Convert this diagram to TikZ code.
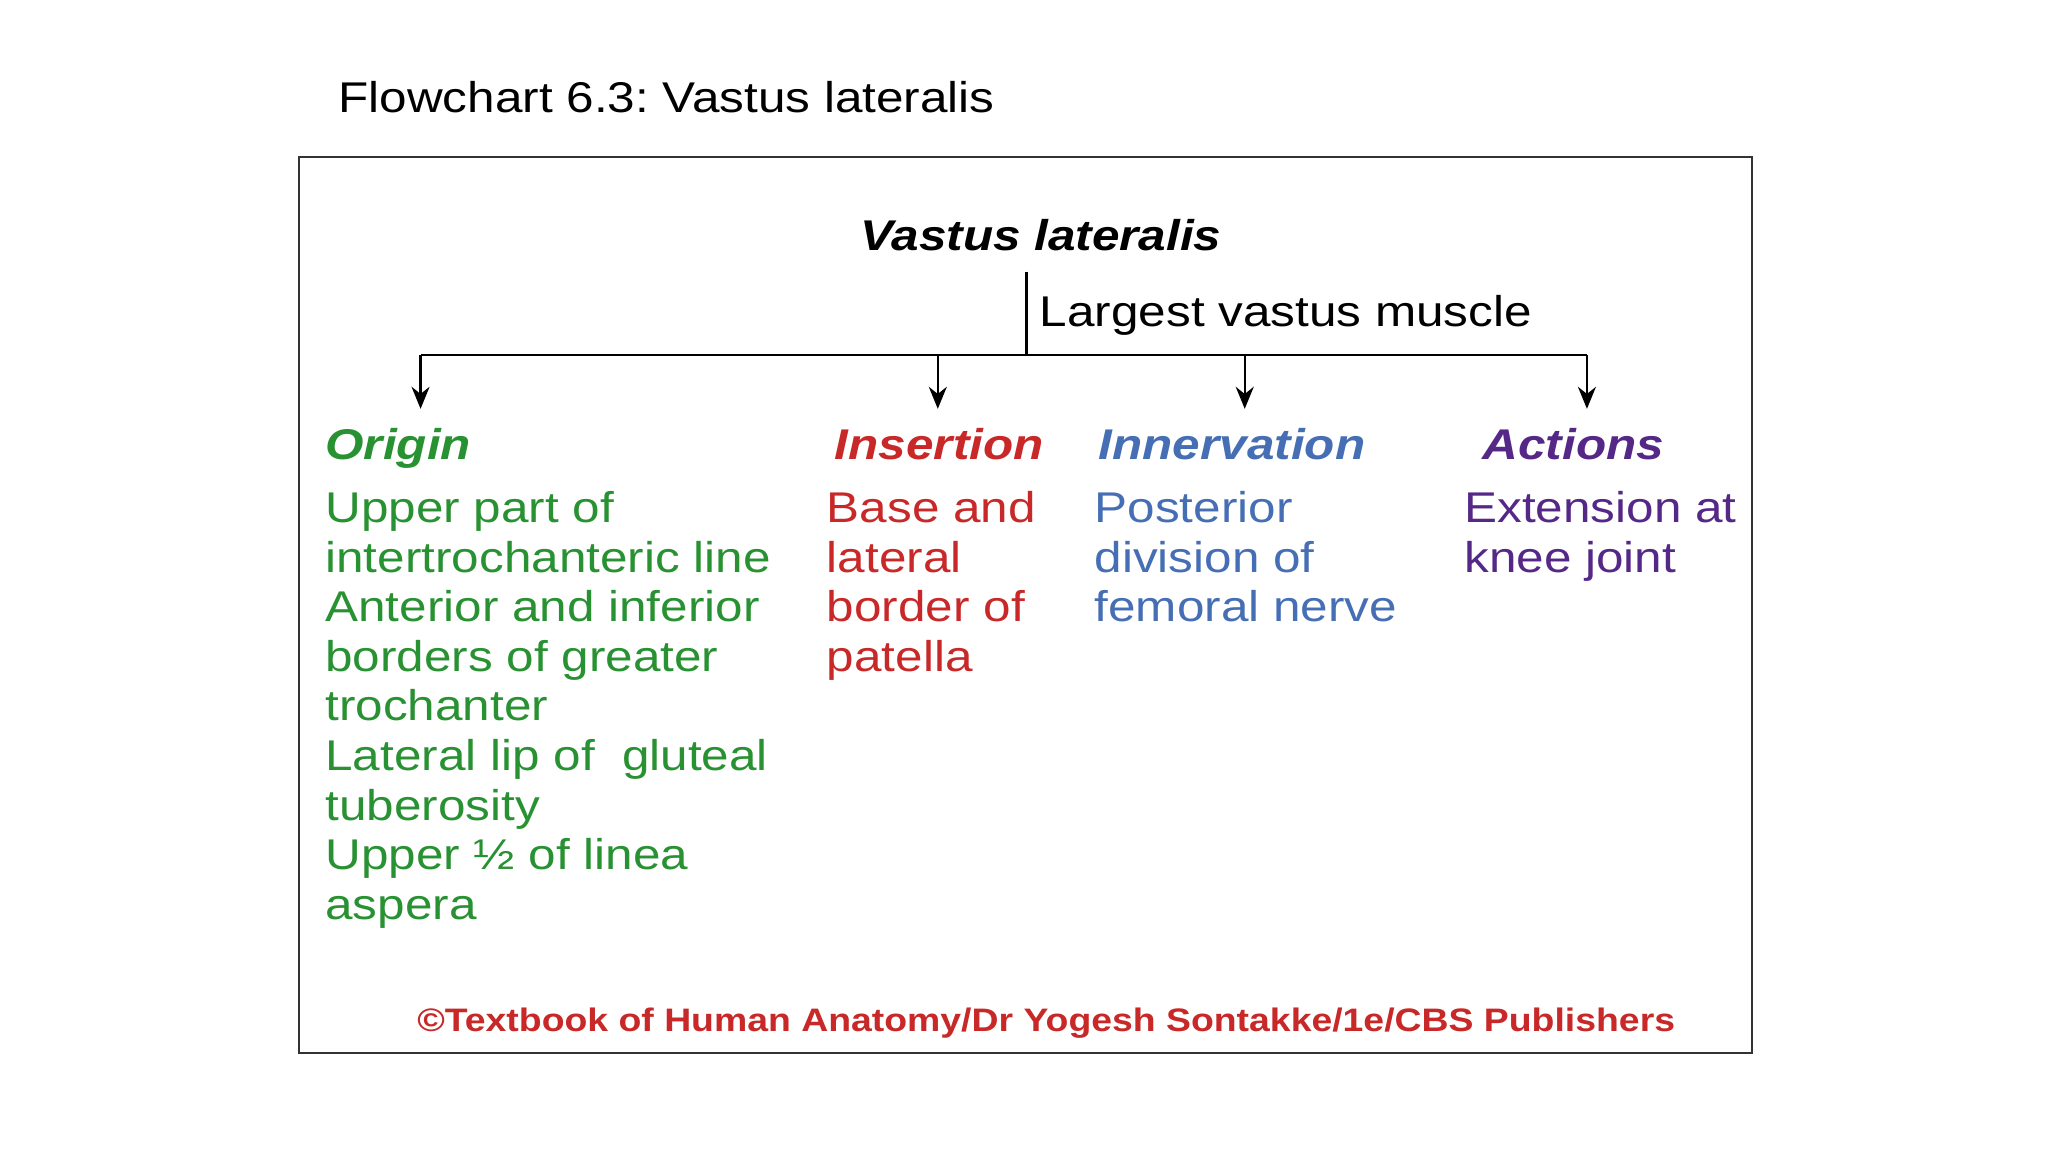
\documentclass[tikz,border=0pt]{standalone}
\usepackage{fontspec}
\setmainfont[FakeStretch=1.15]{Liberation Sans}
\frenchspacing
\usetikzlibrary{arrows.meta}
\definecolor{orgreen}{RGB}{40,145,50}
\definecolor{insred}{RGB}{200,40,40}
\definecolor{innblue}{RGB}{70,110,180}
\definecolor{actpurple}{RGB}{85,40,135}
\tikzset{
  body/.style={anchor=north west,inner sep=0pt,align=left,font=\fontsize{43}{49.6}\selectfont},
  head/.style={anchor=base west,inner sep=0pt,font=\fontsize{43}{49.6}\selectfont\bfseries\itshape},
  branch/.style={-{Stealth[length=22pt,width=18pt]},line width=2.4pt}
}
\begin{document}
\begin{tikzpicture}[x=1.306pt,y=1.306pt,yscale=-1,xscale=1]
\useasboundingbox (0,0) rectangle (1568,882);

% Title
\node (title) [anchor=base west,inner sep=0pt,font=\fontsize{43}{49.6}\selectfont] at (259,86) {Flowchart 6.3: Vastus lateralis};
% Frame
\draw [line width=2pt,draw=black!80] (229,120) rectangle (1341,806);

% Main heading
\node (main) [anchor=base,inner sep=0pt,font=\fontsize{43}{49.6}\selectfont\bfseries\itshape] at (797,192) {Vastus lateralis};
\node (note) [anchor=base west,inner sep=0pt,font=\fontsize{43}{49.6}\selectfont] at (796,250) {Largest vastus muscle};

% Tree
\coordinate (top) at (786,208);
\coordinate (mid) at (786,272);
\coordinate (bl) at (322,272);
\coordinate (br) at (1215,272);
\draw [line width=2.4pt] (top) -- (mid);
\draw [line width=2.4pt] (bl) -- (br);
\foreach \xx/\nm in {322/a,718/b,953/c,1215/d}{
  \coordinate (s\nm) at (\xx,272);
  \coordinate (e\nm) at (\xx,313);
  \draw [branch] (s\nm) -- (e\nm);
}

% Headings
\node (origin) [head,text=orgreen] at (249,352) {Origin};
\node (insertion) [head,text=insred] at (639,352) {Insertion};
\node (innervation) [head,text=innblue] at (841,352) {Innervation};
\node (actions) [head,text=actpurple] at (1135,352) {Actions};

% Bodies
\node (originbody) [body,text=orgreen] at (249,376) {Upper part of\\intertrochanteric line\\Anterior and inferior\\borders of greater\\trochanter\\Lateral lip of\ \ gluteal\\tuberosity\\Upper ½ of linea\\aspera};
\node (insbody) [body,text=insred] at (633,376) {Base and\\lateral\\border of\\patella};
\node (innbody) [body,text=innblue] at (838,376) {Posterior\\division of\\femoral nerve};
\node (actbody) [body,text=actpurple] at (1121,376) {Extension at\\knee joint};

% Credit
\node (credit) [anchor=base,inner sep=0pt,text=insred,font=\fontsize{32.5}{38}\selectfont\bfseries] at (801,790) {©Textbook of Human Anatomy/Dr Yogesh Sontakke/1e/CBS Publishers};
\end{tikzpicture}
\end{document}
